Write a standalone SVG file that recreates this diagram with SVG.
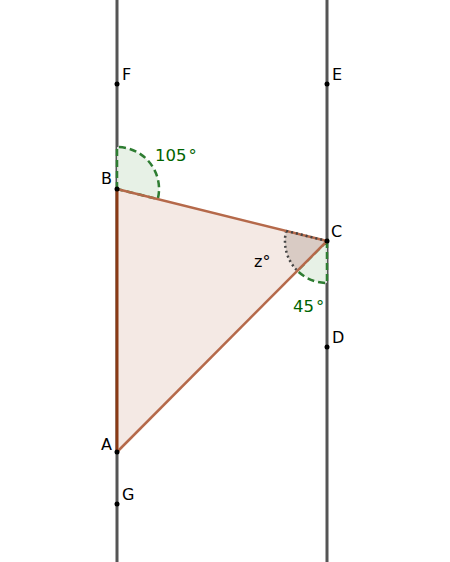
<svg xmlns="http://www.w3.org/2000/svg" width="450" height="562" viewBox="0 0 450 562">
<style>
.line{stroke:#555;stroke-width:3;fill:none}
.pt{fill:#000}
.lbl{font-family:"DejaVu Sans",sans-serif;font-size:16px;fill:#000}
.glbl{font-family:"DejaVu Sans",sans-serif;font-size:16.5px;fill:#006400}
.gang{fill:#e4efe3;stroke:#2e7d32;stroke-width:2.5;stroke-dasharray:7,4;fill-opacity:0.9}
</style>
<rect width="450" height="562" fill="#fff"/>
<g id="lines">
<line class="line" x1="117" y1="0" x2="117" y2="562"/>
<line class="line" x1="327" y1="0" x2="327" y2="562"/>
</g>
<g id="triangle">
<polygon points="117,189 327,241 117,452" fill="#f4e9e4" stroke="none"/>
</g>
<g id="angleB">
<path class="gang" d="M117,189 L117,147 A42,42 0 0 1 157.8,199.1 Z"/>
</g>
<g id="angleC45">
<path class="gang" d="M327,241 L327,283 A42,42 0 0 1 297.4,270.8 Z"/>
</g>
<g id="angleZ">
<path d="M327,241 L286.2,230.9 A42,42 0 0 0 297.4,270.8 Z" fill="#d9cbc4" stroke="none"/>
<path d="M286.2,230.9 A42,42 0 0 0 297.4,270.8" fill="none" stroke="#444" stroke-width="2.5" stroke-dasharray="2,3"/>
</g>
<g id="connectors">
<line x1="117" y1="189" x2="117" y2="452" stroke="#8a3a14" stroke-width="3"/>
<line x1="117" y1="189" x2="327" y2="241" stroke="#b5694a" stroke-width="2.5"/>
<line x1="327" y1="241" x2="117" y2="452" stroke="#b5694a" stroke-width="2.5"/>
<line x1="286.2" y1="230.9" x2="327" y2="241" stroke="#444" stroke-width="2.5" stroke-dasharray="2,3"/>
</g>
<g id="pointF"><circle class="pt" cx="117" cy="84" r="2.5"/><text class="lbl" x="122" y="80">F</text></g>
<g id="pointE"><circle class="pt" cx="327" cy="84" r="2.5"/><text class="lbl" x="332" y="80">E</text></g>
<g id="pointB"><circle class="pt" cx="117" cy="189" r="2.5"/><text class="lbl" x="101" y="184">B</text></g>
<g id="pointC"><circle class="pt" cx="327" cy="241" r="2.5"/><text class="lbl" x="331" y="237">C</text></g>
<g id="pointD"><circle class="pt" cx="327" cy="347" r="2.5"/><text class="lbl" x="332" y="343">D</text></g>
<g id="pointA"><circle class="pt" cx="117" cy="452" r="2.5"/><text class="lbl" x="101" y="450">A</text></g>
<g id="pointG"><circle class="pt" cx="117" cy="504" r="2.5"/><text class="lbl" x="122" y="500">G</text></g>
<g id="labels">
<text class="glbl" x="155" y="161">105<tspan dx="2">°</tspan></text>
<text class="glbl" x="293" y="312">45<tspan dx="2">°</tspan></text>
<text class="lbl" x="254" y="267">z°</text>
</g>
</svg>
